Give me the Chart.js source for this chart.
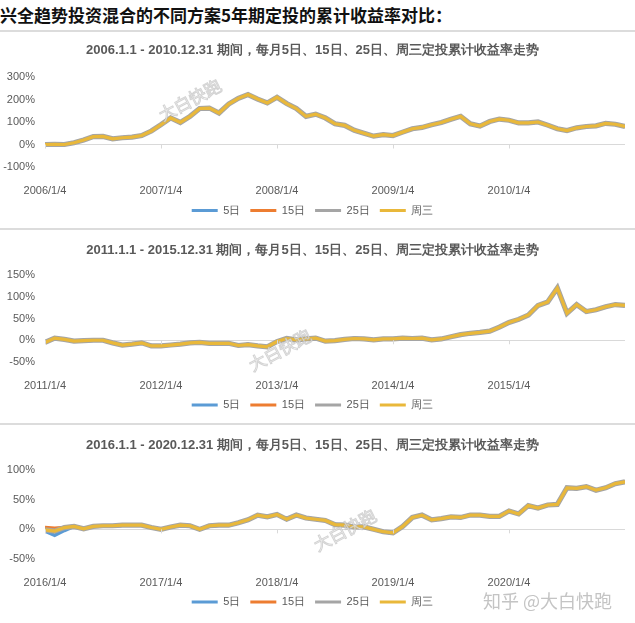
<!DOCTYPE html>
<html>
<head>
<meta charset="utf-8">
<script src="https://cdn.jsdelivr.net/npm/chart.js@4.4.0/dist/chart.umd.min.js"></script>
<style>
    body { margin: 0; background: #fff; width: 635px; height: 623px; overflow: hidden; position: relative;
           font-family: 'Noto Sans', 'Noto Sans CJK SC', sans-serif; }
    #head { position: absolute; left: 0; top: 3px; font-size: 17px; font-weight: bold; color: #111;
            font-family: 'Noto Sans CJK SC', sans-serif; line-height: 24px; white-space: nowrap; }
    .sep { position: absolute; left: 0; width: 635px; height: 2px; background: #dcdcdc; }
    .panel { position: absolute; left: 0; width: 635px; }
    #zhihu { position: absolute; left: 483px; top: 588px; font-size: 18px; color: #c4c4c4;
             font-family: 'Noto Sans CJK SC', sans-serif; white-space: nowrap; line-height: 24px; }
</style>
</head>
<body>
<div id="head">兴全趋势投资混合的不同方案5年期定投的累计收益率对比：</div>
<div class="sep" style="top:30px"></div>
<div class="panel" style="top:32px;height:196px"><canvas id="chart1"></canvas></div>
<div class="sep" style="top:228px"></div>
<div class="panel" style="top:231px;height:192px"><canvas id="chart2"></canvas></div>
<div class="sep" style="top:423px"></div>
<div class="panel" style="top:425px;height:198px"><canvas id="chart3"></canvas></div>
<div id="zhihu">知乎 @大白快跑</div>
<script>
// series names
var seriesNames = ['5日', '15日', '25日', '周三'];

// x ticks (month index -> label)
var tickMonths = [0, 12, 24, 36, 48];
var p1Ticks = ['2006/1/4', '2007/1/4', '2008/1/4', '2009/1/4', '2010/1/4'];
var p2Ticks = ['2011/1/4', '2012/1/4', '2013/1/4', '2014/1/4', '2015/1/4'];
var p3Ticks = ['2016/1/4', '2017/1/4', '2018/1/4', '2019/1/4', '2020/1/4'];

// monthly cumulative return (%), 2006-2010
var p1Wed = [0, 1, 0, 8, 20, 35, 36, 25, 30, 33, 40, 60, 88, 118, 98, 125, 160, 162, 140, 180,
    205, 222, 202, 185, 210, 182, 160, 125, 135, 118, 92, 85, 63, 50, 37, 44, 40, 55, 70, 76,
    88, 98, 112, 125, 92, 82, 102, 113, 108, 96, 96, 100, 86, 70, 62, 74, 80, 83, 94, 90, 80];
var p1Day25 = p1Wed;
var p1Day15 = p1Wed;
var p1Day5 = p1Wed;

// 2011-2015
var p2Wed = [-5, 5, 2, -2, -1, 0, 0, -6, -11, -9, -6, -13, -13, -11, -9, -6, -5, -7, -7, -7,
    -12, -10, -13, -15, -3, 4, 1, 3, 5, -2, -1, 2, 4, 3, 1, 3, 3, 5, 4, 5,
    1, 3, 8, 13, 16, 18, 21, 30, 41, 48, 58, 80, 88, 120, 62, 82, 66, 70, 77, 82, 80];
var p2Day25 = p2Wed;
var p2Day15 = p2Wed;
var p2Day5 = p2Wed;

// 2016-2020
var p3Wed = [-1, -3, 3, 5, 1, 5, 6, 6, 7, 7, 7, 3, 0, 4, 7, 6, 0, 6, 7, 7,
    11, 16, 24, 21, 25, 17, 24, 19, 17, 15, 8, 7, 4, 4, 0, -4, -6, 5, 20, 24,
    16, 18, 21, 20, 24, 24, 22, 22, 31, 26, 40, 36, 41, 42, 70, 69, 72, 66, 70, 77, 80];
var p3Day25 = p3Wed;
var p3Day15 = [3, 2, 3, 5, 1, 5, 6, 6, 7, 7, 7, 3, 0, 4, 7, 6, 0, 6, 7, 7,
    11, 16, 24, 21, 25, 17, 24, 19, 17, 15, 8, 7, 4, 4, 0, -4, -6, 5, 20, 24,
    16, 18, 21, 20, 24, 24, 22, 22, 31, 26, 40, 36, 41, 42, 70, 69, 72, 66, 70, 77, 80];
var p3Day5 = [-3, -10, -2, 5, 1, 5, 6, 6, 7, 7, 7, 3, 0, 4, 7, 6, 0, 6, 7, 7,
    11, 16, 24, 21, 25, 17, 24, 19, 17, 15, 8, 7, 4, 4, 0, -4, -6, 5, 20, 24,
    16, 18, 21, 20, 24, 24, 22, 22, 31, 26, 40, 36, 41, 42, 70, 69, 72, 66, 70, 77, 80];

var colors = ['#5B9BD5', '#ED7D31', '#A5A5A5', '#E9B83A'];
var widths = [3.5, 3.5, 5.2, 3.2];
var textColor = '#595959';

// small tick marks hanging under the zero line + watermark
var extras = {
    id: 'extras',
    afterDatasetsDraw: function(chart, args, opts) {
        var ctx = chart.ctx, xs = chart.scales.x, ys = chart.scales.y;
        var y0 = ys.getPixelForValue(0);
        ctx.save();
        ctx.strokeStyle = '#d9d9d9';
        ctx.lineWidth = 1;
        tickMonths.forEach(function(m) {
            var px = Math.round(xs.getPixelForValue(m)) + 0.5;
            ctx.beginPath();
            ctx.moveTo(px, y0);
            ctx.lineTo(px, y0 + 4);
            ctx.stroke();
        });
        ctx.translate(opts.wx, opts.wy);
        ctx.rotate(-28 * Math.PI / 180);
        ctx.font = '17px "Noto Sans CJK SC"';
        ctx.textAlign = 'center';
        ctx.textBaseline = 'middle';
        ctx.fillStyle = 'rgba(255,255,255,0.75)';
        ctx.fillText('大白快跑', 0, 0);
        ctx.strokeStyle = 'rgba(175,175,175,0.55)';
        ctx.strokeText('大白快跑', 0, 0);
        ctx.restore();
    }
};

function createChart(canvasId, title, ticks, series, yMin, yMax, yStep, lay) {
    var ctx = document.getElementById(canvasId).getContext('2d');
    var datasets = series.map(function(values, k) {
        return {
            label: seriesNames[k],
            data: values.map(function(v, i) { return {x: i, y: v}; }),
            borderColor: colors[k],
            backgroundColor: colors[k],
            borderWidth: widths[k],
            pointRadius: 0,
            tension: 0,
            order: 3 - k
        };
    });
    return new Chart(ctx, {
        type: 'line',
        data: { datasets: datasets },
        plugins: [extras],
        options: {
            responsive: true,
            maintainAspectRatio: false,
            animation: false,
            layout: { padding: { left: 0, right: 10, top: 0, bottom: lay.padBottom } },
            plugins: {
                legend: {
                    position: 'bottom',
                    labels: {
                        boxWidth: 26,
                        boxHeight: 3,
                        padding: 10,
                        color: textColor,
                        font: { size: 11 },
                        sort: function(a, b) { return a.datasetIndex - b.datasetIndex; },
                        generateLabels: function(chart) {
                            return Chart.defaults.plugins.legend.labels.generateLabels(chart).map(function(l) {
                                l.fillStyle = colors[l.datasetIndex];
                                l.lineWidth = 0;
                                return l;
                            });
                        }
                    }
                },
                tooltip: { enabled: false },
                title: {
                    display: true,
                    text: title,
                    color: textColor,
                    font: { size: 13, weight: 'bold' },
                    padding: { top: lay.titleTop, bottom: lay.titleBottom }
                },
                extras: { wx: lay.wx, wy: lay.wy }
            },
            scales: {
                x: {
                    type: 'linear',
                    min: 0,
                    max: 60,
                    grid: { display: false },
                    border: { display: false },
                    afterBuildTicks: function(scale) {
                        scale.ticks = tickMonths.map(function(m) { return {value: m}; });
                    },
                    afterFit: function(scale) { scale.height = lay.xHeight; },
                    ticks: {
                        autoSkip: false,
                        maxRotation: 0,
                        padding: 9,
                        color: textColor,
                        font: { size: 11 },
                        callback: function(v, i) { return ticks[i]; }
                    }
                },
                y: {
                    min: yMin,
                    max: yMax,
                    border: { display: false },
                    grid: {
                        drawTicks: false,
                        color: function(c) { return c.tick.value === 0 ? '#d9d9d9' : 'rgba(0,0,0,0)'; }
                    },
                    afterFit: function(scale) { scale.width = 45; },
                    ticks: {
                        stepSize: yStep,
                        padding: 10,
                        color: textColor,
                        font: { size: 11 },
                        callback: function(v) { return v + '%'; }
                    }
                }
            }
        }
    });
}

createChart('chart1', '2006.1.1 - 2010.12.31 期间，每月5日、15日、25日、周三定投累计收益率走势', p1Ticks,
    [p1Day5, p1Day15, p1Day25, p1Wed], -100, 300, 100,
    { titleTop: 10.5, titleBottom: 18.9, xHeight: 28, padBottom: 2, wx: 190, wy: 68 });

createChart('chart2', '2011.1.1 - 2015.12.31 期间，每月5日、15日、25日、周三定投累计收益率走势', p2Ticks,
    [p2Day5, p2Day15, p2Day25, p2Wed], -50, 150, 50,
    { titleTop: 11.5, titleBottom: 16.9, xHeight: 27.5, padBottom: 2.5, wx: 280, wy: 119 });

createChart('chart3', '2016.1.1 - 2020.12.31 期间，每月5日、15日、25日、周三定投累计收益率走势', p3Ticks,
    [p3Day5, p3Day15, p3Day25, p3Wed], -50, 100, 50,
    { titleTop: 12.5, titleBottom: 16.9, xHeight: 27.5, padBottom: 5.5, wx: 345, wy: 105 });
</script>
</body>
</html>
